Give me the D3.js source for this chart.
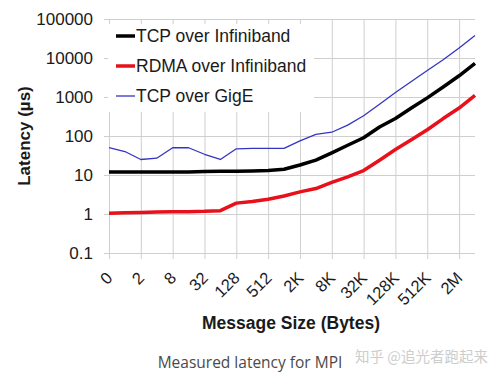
<!DOCTYPE html>
<html>
<head>
<meta charset="utf-8">
<script src="https://cdn.jsdelivr.net/npm/d3@7"></script>
<style>
  body { margin: 0; background: #fff; }
  text { font-family: "Liberation Sans", Arial, sans-serif; }
</style>
</head>
<body>
<script>
// message sizes (every power of two), labels shown on every other one
var sizes = ["0","1","2","4","8","16","32","64","128","256","512","1K","2K","4K","8K","16K","32K","64K","128K","256K","512K","1M","2M","4M"];
var yTicks = [0.1, 1, 10, 100, 1000, 10000, 100000];

// latency in microseconds
var tcpIB   = [12, 12, 12, 12, 12, 12, 12.3, 12.4, 12.5, 12.7, 13, 14, 18, 24, 37, 58, 90, 170, 280, 520, 950, 1800, 3500, 7300];
var rdmaIB  = [1.05, 1.08, 1.1, 1.12, 1.14, 1.15, 1.17, 1.22, 1.9, 2.1, 2.4, 2.9, 3.7, 4.5, 6.5, 9, 13, 24, 45, 80, 145, 280, 520, 1100];
var tcpGigE = [50, 40, 25, 27, 50, 50, 34, 25, 47, 48, 48, 48, 75, 110, 125, 190, 330, 650, 1300, 2500, 4800, 9000, 18000, 38000];

var seriesNames  = ["TCP over Infiniband", "RDMA over Infiniband", "TCP over GigE"];
var seriesValues = [tcpIB, rdmaIB, tcpGigE];

var W = 501, H = 379;
// plot box (note: "top" is a reserved window global, so use p* names)
var pLeft = 109, pRight = 475, pTop = 19, pBottom = 253;

var svg = d3.select("body").append("svg")
    .attr("width", W)
    .attr("height", H);

var x = d3.scalePoint()
    .domain(sizes)
    .range([pLeft, pRight]);

var y = d3.scaleLog()
    .domain([0.1, 100000])
    .range([pBottom, pTop]);

var gridColor = "#cfcfcf";

// horizontal grid + y labels
var yAxis = svg.append("g")
    .attr("transform", "translate(104,0)")
    .call(d3.axisLeft(y)
      .tickValues(yTicks)
      .tickFormat(function(d) { return d < 1 ? "0.1" : d3.format("d")(d); })
      .tickSizeInner(-(pRight - 104))
      .tickSizeOuter(0)
      .tickPadding(11));
yAxis.select(".domain").remove();
yAxis.selectAll("line").attr("stroke", gridColor);
yAxis.selectAll("text")
    .attr("fill", "#1a1a1a")
    .style("font-size", "17px");

// vertical grid + x labels
var labelled = sizes.filter(function(d, i) { return i % 2 == 0; });
var xAxis = svg.append("g")
    .attr("transform", "translate(0,259)")
    .call(d3.axisBottom(x)
      .tickValues(labelled)
      .tickSizeInner(-(259 - pTop))
      .tickSizeOuter(0));
xAxis.select(".domain").remove();
xAxis.selectAll("line").attr("stroke", gridColor);
xAxis.selectAll("text")
    .attr("x", 0)
    .attr("y", 0)
    .attr("dy", 0)
    .attr("text-anchor", "end")
    .attr("transform", "translate(4,20) rotate(-45)")
    .attr("fill", "#1a1a1a")
    .style("font-size", "16.5px");

// lines
var colors = ["#000000", "#e8101a", "#3434c4"];
var widths = [3.5, 3.5, 1.3];

var line = d3.line()
    .x(function(d, i) { return x(sizes[i]); })
    .y(function(d) { return y(d); });

// draw the thin blue first, then red, black on top
[2, 1, 0].forEach(function(k) {
  svg.append("path")
    .datum(seriesValues[k])
    .attr("fill", "none")
    .attr("stroke", colors[k])
    .attr("stroke-width", widths[k])
    .attr("stroke-linejoin", "round")
    .attr("d", line);
});

// legend (white box over the grid)
svg.append("rect")
    .attr("x", 108)
    .attr("y", 24)
    .attr("width", 206)
    .attr("height", 88)
    .attr("fill", "#fff");

var legend = svg.append("g");
seriesNames.forEach(function(name, i) {
  var ly = 36 + i * 30;
  legend.append("line")
    .attr("x1", 116).attr("x2", 135)
    .attr("y1", ly).attr("y2", ly)
    .attr("stroke", colors[i])
    .attr("stroke-width", i == 2 ? 1.3 : 3.5);
  legend.append("text")
    .attr("x", 136)
    .attr("y", ly + 6)
    .attr("fill", "#1a1a1a")
    .style("font-size", "17.5px")
    .text(name);
});

// axis titles
svg.append("text")
    .attr("transform", "translate(30," + ((pTop + pBottom) / 2) + ") rotate(-90)")
    .attr("text-anchor", "middle")
    .style("font-size", "17px")
    .style("font-weight", "bold")
    .attr("fill", "#1a1a1a")
    .text("Latency (µs)");

svg.append("text")
    .attr("x", 291)
    .attr("y", 329)
    .attr("text-anchor", "middle")
    .style("font-size", "17.5px")
    .style("font-weight", "bold")
    .attr("fill", "#1a1a1a")
    .text("Message Size (Bytes)");

// caption + watermark
svg.append("text")
    .attr("x", 250)
    .attr("y", 368)
    .attr("text-anchor", "middle")
    .style("font-family", "'Open Sans', sans-serif")
    .style("font-size", "15.5px")
    .attr("fill", "#4a4a4a")
    .text("Measured latency for MPI");

svg.append("text")
    .attr("x", 355)
    .attr("y", 362)
    .style("font-family", "'Noto Sans CJK SC', sans-serif")
    .style("font-size", "14.5px")
    .attr("fill", "#cdcdcd")
    .text("知乎 @追光者跑起来");
</script>
</body>
</html>
